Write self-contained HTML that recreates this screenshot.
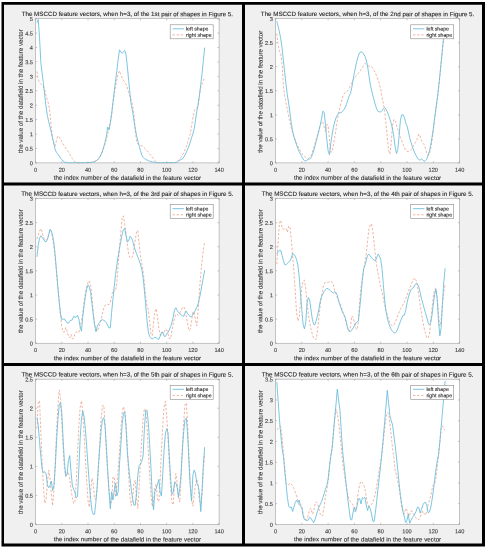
<!DOCTYPE html>
<html lang="en"><head><meta charset="utf-8"><title>MSCCD feature vectors</title>
<style>
html,body{margin:0;padding:0;background:#fff;}
body{width:487px;height:550px;overflow:hidden;font-family:"Liberation Sans",Arial,sans-serif;}
svg{display:block;}
</style></head><body>
<svg width="487" height="550" viewBox="0 0 487 550" font-family="Liberation Sans, Arial, sans-serif" text-rendering="geometricPrecision" stroke-linecap="butt">
<style>text{stroke:#333;stroke-width:0.11px;}.k text{stroke-width:0.09px;}</style>
<rect x="1.5" y="2.0" width="483.5" height="544.5" fill="#000"/>
<rect x="4.0" y="4.75" width="238.0" height="177.75" fill="#f0f0f0"/>
<rect x="35.60" y="18.70" width="183.50" height="144.20" fill="#fff" stroke="#a0a0a0" stroke-width="0.6"/>
<path d="M35.60 162.90v-1.6M35.60 18.70v1.6M61.81 162.90v-1.6M61.81 18.70v1.6M88.03 162.90v-1.6M88.03 18.70v1.6M114.24 162.90v-1.6M114.24 18.70v1.6M140.46 162.90v-1.6M140.46 18.70v1.6M166.67 162.90v-1.6M166.67 18.70v1.6M192.89 162.90v-1.6M192.89 18.70v1.6M219.10 162.90v-1.6M219.10 18.70v1.6M35.60 162.90h1.6M219.10 162.90h-1.6M35.60 148.48h1.6M219.10 148.48h-1.6M35.60 134.06h1.6M219.10 134.06h-1.6M35.60 119.64h1.6M219.10 119.64h-1.6M35.60 105.22h1.6M219.10 105.22h-1.6M35.60 90.80h1.6M219.10 90.80h-1.6M35.60 76.38h1.6M219.10 76.38h-1.6M35.60 61.96h1.6M219.10 61.96h-1.6M35.60 47.54h1.6M219.10 47.54h-1.6M35.60 33.12h1.6M219.10 33.12h-1.6M35.60 18.70h1.6M219.10 18.70h-1.6" stroke="#949494" stroke-width="0.55" fill="none"/>
<g class="k" font-size="5.64" fill="#3a3a3a">
<text transform="translate(35.60 171.70) rotate(0.05)" text-anchor="middle">0</text>
<text transform="translate(61.81 171.70) rotate(0.05)" text-anchor="middle">20</text>
<text transform="translate(88.03 171.70) rotate(0.05)" text-anchor="middle">40</text>
<text transform="translate(114.24 171.70) rotate(0.05)" text-anchor="middle">60</text>
<text transform="translate(140.46 171.70) rotate(0.05)" text-anchor="middle">80</text>
<text transform="translate(166.67 171.70) rotate(0.05)" text-anchor="middle">100</text>
<text transform="translate(192.89 171.70) rotate(0.05)" text-anchor="middle">120</text>
<text transform="translate(219.10 171.70) rotate(0.05)" text-anchor="middle">140</text>
<text transform="translate(33.00 165.20) rotate(0.05)" text-anchor="end">0</text>
<text transform="translate(33.00 150.78) rotate(0.05)" text-anchor="end">0.5</text>
<text transform="translate(33.00 136.36) rotate(0.05)" text-anchor="end">1</text>
<text transform="translate(33.00 121.94) rotate(0.05)" text-anchor="end">1.5</text>
<text transform="translate(33.00 107.52) rotate(0.05)" text-anchor="end">2</text>
<text transform="translate(33.00 93.10) rotate(0.05)" text-anchor="end">2.5</text>
<text transform="translate(33.00 78.68) rotate(0.05)" text-anchor="end">3</text>
<text transform="translate(33.00 64.26) rotate(0.05)" text-anchor="end">3.5</text>
<text transform="translate(33.00 49.84) rotate(0.05)" text-anchor="end">4</text>
<text transform="translate(33.00 35.42) rotate(0.05)" text-anchor="end">4.5</text>
<text transform="translate(33.00 21.00) rotate(0.05)" text-anchor="end">5</text>
</g>
<text transform="translate(127.35 179.90) rotate(0.05)" font-size="6.22" text-anchor="middle" fill="#333">the index number of the datafield in the feature vector</text>
<text transform="translate(22.75 91.10) rotate(-89.94)" font-size="6.2" text-anchor="middle" fill="#333">the value of the datafield in the feature vector</text>
<text transform="translate(127.35 16.10) rotate(0.05)" font-size="6.23" text-anchor="middle" fill="#222">The MSCCD feature vectors, when h=3, of the 1st pair of shapes in Figure 5.</text>
<clipPath id="c1"><rect x="35.60" y="18.20" width="183.50" height="145.20"/></clipPath>
<g clip-path="url(#c1)" fill="none" stroke-linejoin="round">
<polyline stroke="#eba28a" stroke-width="0.8" stroke-dasharray="2.4 1.7" points="36.91,71.48 38.22,79.26 39.53,82.72 40.84,84.17 42.15,85.03 43.46,86.19 44.78,90.22 46.09,95.99 47.40,100.03 48.71,104.35 50.02,113.30 51.33,128.29 52.64,139.25 53.95,144.15 55.26,146.17 56.57,139.83 57.88,135.79 59.19,136.94 60.50,139.05 61.81,141.56 63.12,143.93 64.44,146.17 65.75,148.06 67.06,149.92 68.37,152.04 69.68,154.25 70.99,156.40 72.30,158.50 73.61,160.33 74.92,161.75 76.23,162.54 77.54,162.90 78.85,162.90 80.16,162.90 81.47,162.90 82.79,162.90 84.10,162.90 85.41,162.90 86.72,162.90 88.03,162.90 89.34,162.83 90.65,162.64 91.96,162.36 93.27,162.03 94.58,161.59 95.89,160.92 97.20,160.04 98.51,158.94 99.82,157.40 101.14,154.89 102.45,151.67 103.76,148.05 105.07,144.14 106.38,139.33 107.69,134.06 109.00,128.76 110.31,122.52 111.62,113.62 112.93,103.78 114.24,94.69 115.55,86.47 116.86,79.93 118.18,73.61 119.49,70.79 120.80,74.94 122.11,77.72 123.42,80.13 124.73,82.07 126.04,84.18 127.35,87.98 128.66,92.81 129.97,96.75 131.28,100.50 132.59,105.45 133.90,113.64 135.21,130.76 136.53,140.99 137.84,143.95 139.15,145.02 140.46,145.49 141.77,145.86 143.08,146.63 144.39,147.83 145.70,149.15 147.01,150.66 148.32,152.23 149.63,153.79 150.94,155.40 152.25,157.10 153.56,158.79 154.88,160.46 156.19,161.81 157.50,162.48 158.81,162.79 160.12,162.90 161.43,162.90 162.74,162.90 164.05,162.90 165.36,162.90 166.67,162.90 167.98,162.90 169.29,162.90 170.60,162.90 171.91,162.90 173.22,162.90 174.54,162.80 175.85,162.54 177.16,162.07 178.47,160.77 179.78,158.99 181.09,157.23 182.40,155.24 183.71,152.87 185.02,149.85 186.33,146.36 187.64,142.43 188.95,138.10 190.26,133.90 191.57,126.42 192.89,117.88 194.20,111.32 195.51,108.66 196.82,108.12 198.13,106.35 199.44,95.78 200.75,87.25 202.06,83.68 203.37,80.60 204.68,77.82"/>
<polyline stroke="#66bcdb" stroke-width="0.85" points="36.91,22.74 38.22,19.57 39.53,37.45 40.84,62.21 42.15,73.50 43.46,83.88 44.78,95.70 46.09,106.95 47.40,115.60 48.71,121.66 50.02,126.85 51.33,132.62 52.64,138.39 53.95,143.87 55.26,149.92 56.57,152.52 57.88,154.27 59.19,156.08 60.50,158.00 61.81,159.60 63.12,160.99 64.44,162.03 65.75,162.40 67.06,162.61 68.37,162.75 69.68,162.86 70.99,162.90 72.30,162.90 73.61,162.90 74.92,162.90 76.23,162.90 77.54,162.89 78.85,162.87 80.16,162.85 81.47,162.82 82.79,162.79 84.10,162.75 85.41,162.71 86.72,162.66 88.03,162.61 89.34,162.54 90.65,162.42 91.96,162.25 93.27,162.03 94.58,161.62 95.89,160.93 97.20,160.02 98.51,158.66 99.82,156.68 101.14,154.25 102.45,150.96 103.76,146.73 105.07,142.04 106.38,136.37 107.69,127.04 109.00,129.85 110.31,123.15 111.62,114.31 112.93,102.34 114.24,91.35 115.55,80.71 116.86,70.61 118.18,59.08 119.49,49.85 120.80,51.87 122.11,53.31 123.42,51.58 124.73,50.42 126.04,54.75 127.35,66.29 128.66,80.71 129.97,93.68 131.28,105.22 132.59,110.99 133.90,120.51 135.21,128.29 136.53,135.19 137.84,140.98 139.15,145.88 140.46,150.79 141.77,155.09 143.08,157.32 144.39,158.51 145.70,159.31 147.01,160.01 148.32,160.59 149.63,161.07 150.94,161.47 152.25,161.81 153.56,162.10 154.88,162.35 156.19,162.54 157.50,162.71 158.81,162.85 160.12,162.90 161.43,162.90 162.74,162.89 164.05,162.87 165.36,162.85 166.67,162.82 167.98,162.79 169.29,162.75 170.60,162.71 171.91,162.66 173.22,162.61 174.54,162.55 175.85,162.43 177.16,162.13 178.47,161.09 179.78,160.19 181.09,159.54 182.40,159.15 183.71,157.13 185.02,155.01 186.33,152.31 187.64,149.27 188.95,146.00 190.26,142.09 191.57,137.83 192.89,133.68 194.20,128.76 195.51,119.96 196.82,111.27 198.13,104.08 199.44,95.14 200.75,84.37 202.06,73.50 203.37,60.52 204.68,47.54"/>
</g>
<rect x="170.20" y="24.80" width="43.00" height="14.00" fill="#fff" stroke="#8a8a8a" stroke-width="0.6"/>
<path d="M172.50 28.80h11.4" stroke="#66bcdb" stroke-width="0.85"/>
<path d="M172.50 34.90h11.4" stroke="#eba28a" stroke-width="0.8" stroke-dasharray="2.4 1.7"/>
<text transform="translate(185.90 30.60) rotate(0.05)" font-size="5.2" fill="#222">left shape</text>
<text transform="translate(185.90 36.70) rotate(0.05)" font-size="5.2" fill="#222">right shape</text>
<rect x="245.0" y="4.75" width="237.0" height="177.75" fill="#f0f0f0"/>
<rect x="275.50" y="18.70" width="184.10" height="144.20" fill="#fff" stroke="#a0a0a0" stroke-width="0.6"/>
<path d="M275.50 162.90v-1.6M275.50 18.70v1.6M301.80 162.90v-1.6M301.80 18.70v1.6M328.10 162.90v-1.6M328.10 18.70v1.6M354.40 162.90v-1.6M354.40 18.70v1.6M380.70 162.90v-1.6M380.70 18.70v1.6M407.00 162.90v-1.6M407.00 18.70v1.6M433.30 162.90v-1.6M433.30 18.70v1.6M459.60 162.90v-1.6M459.60 18.70v1.6M275.50 162.90h1.6M459.60 162.90h-1.6M275.50 138.87h1.6M459.60 138.87h-1.6M275.50 114.83h1.6M459.60 114.83h-1.6M275.50 90.80h1.6M459.60 90.80h-1.6M275.50 66.77h1.6M459.60 66.77h-1.6M275.50 42.73h1.6M459.60 42.73h-1.6M275.50 18.70h1.6M459.60 18.70h-1.6" stroke="#949494" stroke-width="0.55" fill="none"/>
<g class="k" font-size="5.64" fill="#3a3a3a">
<text transform="translate(275.50 171.70) rotate(0.05)" text-anchor="middle">0</text>
<text transform="translate(301.80 171.70) rotate(0.05)" text-anchor="middle">20</text>
<text transform="translate(328.10 171.70) rotate(0.05)" text-anchor="middle">40</text>
<text transform="translate(354.40 171.70) rotate(0.05)" text-anchor="middle">60</text>
<text transform="translate(380.70 171.70) rotate(0.05)" text-anchor="middle">80</text>
<text transform="translate(407.00 171.70) rotate(0.05)" text-anchor="middle">100</text>
<text transform="translate(433.30 171.70) rotate(0.05)" text-anchor="middle">120</text>
<text transform="translate(459.60 171.70) rotate(0.05)" text-anchor="middle">140</text>
<text transform="translate(272.90 165.20) rotate(0.05)" text-anchor="end">0</text>
<text transform="translate(272.90 141.17) rotate(0.05)" text-anchor="end">0.5</text>
<text transform="translate(272.90 117.13) rotate(0.05)" text-anchor="end">1</text>
<text transform="translate(272.90 93.10) rotate(0.05)" text-anchor="end">1.5</text>
<text transform="translate(272.90 69.07) rotate(0.05)" text-anchor="end">2</text>
<text transform="translate(272.90 45.03) rotate(0.05)" text-anchor="end">2.5</text>
<text transform="translate(272.90 21.00) rotate(0.05)" text-anchor="end">3</text>
</g>
<text transform="translate(367.55 179.90) rotate(0.05)" font-size="6.22" text-anchor="middle" fill="#333">the index number of the datafield in the feature vector</text>
<text transform="translate(262.40 91.80) rotate(-89.94)" font-size="6.1" text-anchor="middle" fill="#333">the value of the datafield in the feature vector</text>
<text transform="translate(367.55 16.10) rotate(0.05)" font-size="6.23" text-anchor="middle" fill="#222">The MSCCD feature vectors, when h=3, of the 2nd pair of shapes in Figure 5.</text>
<clipPath id="c2"><rect x="275.50" y="18.20" width="184.10" height="145.20"/></clipPath>
<g clip-path="url(#c2)" fill="none" stroke-linejoin="round">
<polyline stroke="#eba28a" stroke-width="0.8" stroke-dasharray="2.4 1.7" points="276.81,33.60 278.13,44.76 279.44,51.25 280.76,53.94 282.07,63.54 283.39,86.24 284.70,95.81 286.02,102.74 287.33,109.52 288.65,116.18 289.96,122.24 291.28,127.85 292.60,132.79 293.91,136.71 295.23,140.01 296.54,142.99 297.86,145.91 299.17,148.76 300.49,151.28 301.80,153.26 303.12,154.94 304.43,156.34 305.75,157.45 307.06,158.40 308.38,158.40 309.69,157.23 311.00,155.45 312.32,152.32 313.63,147.83 314.95,143.39 316.26,138.70 317.58,134.06 318.89,129.53 320.21,125.53 321.52,121.82 322.84,122.17 324.16,126.90 325.47,131.66 326.79,124.54 328.10,124.94 329.42,139.06 330.73,152.43 332.05,151.50 333.36,144.96 334.68,137.32 335.99,129.08 337.31,120.80 338.62,113.59 339.94,107.50 341.25,101.97 342.56,96.94 343.88,94.25 345.19,92.63 346.51,91.56 347.82,90.70 349.14,88.78 350.46,85.54 351.77,82.61 353.09,80.27 354.40,78.18 355.72,76.29 357.03,74.61 358.35,73.13 359.66,71.57 360.98,69.80 362.29,67.85 363.61,65.23 364.92,63.44 366.24,64.34 367.55,65.56 368.87,66.16 370.18,66.52 371.50,66.97 372.81,68.06 374.12,70.48 375.44,73.29 376.75,76.23 378.07,79.65 379.38,83.76 380.70,89.16 382.02,96.85 383.33,103.81 384.64,110.44 385.96,123.12 387.27,136.99 388.59,150.67 389.91,154.09 391.22,142.34 392.54,125.17 393.85,119.30 395.17,121.08 396.48,125.02 397.80,129.37 399.11,133.67 400.43,137.36 401.74,140.79 403.06,144.23 404.37,147.32 405.69,150.37 407.00,151.36 408.32,151.36 409.63,151.20 410.95,149.81 412.26,147.99 413.58,145.57 414.89,143.40 416.21,141.29 417.52,138.26 418.84,134.07 420.15,135.97 421.47,140.26 422.78,143.04 424.10,144.50 425.41,148.25 426.73,153.18 428.04,155.35 429.36,154.62 430.67,148.43 431.99,140.79 433.30,130.93 434.62,119.79 435.93,109.69 437.25,99.05 438.56,88.00 439.88,75.66 441.19,61.96 442.50,48.42 443.82,36.53 445.13,27.35"/>
<polyline stroke="#66bcdb" stroke-width="0.85" points="276.81,21.10 278.13,26.21 279.44,32.05 280.76,38.89 282.07,47.85 283.39,60.21 284.70,72.36 286.02,84.40 287.33,95.04 288.65,102.99 289.96,112.99 291.28,123.17 292.60,131.20 293.91,136.47 295.23,140.98 296.54,144.91 297.86,148.49 299.17,151.56 300.49,154.19 301.80,156.76 303.12,159.05 304.43,160.70 305.75,161.12 307.06,159.99 308.38,159.33 309.69,159.03 311.00,157.87 312.32,154.79 313.63,151.04 314.95,146.25 316.26,141.25 317.58,136.23 318.89,130.92 320.21,125.19 321.52,119.00 322.84,111.09 324.16,112.36 325.47,124.60 326.79,139.49 328.10,150.70 329.42,154.72 330.73,143.75 332.05,134.98 333.36,127.48 334.68,121.99 335.99,117.96 337.31,115.15 338.62,113.16 339.94,112.70 341.25,112.47 342.56,111.41 343.88,109.55 345.19,107.32 346.51,104.40 347.82,99.96 349.14,95.96 350.46,93.43 351.77,87.73 353.09,79.74 354.40,72.66 355.72,66.17 357.03,60.46 358.35,55.83 359.66,52.59 360.98,51.91 362.29,52.31 363.61,53.90 364.92,56.27 366.24,60.04 367.55,65.98 368.87,74.96 370.18,83.52 371.50,89.96 372.81,95.45 374.12,100.44 375.44,105.21 376.75,109.13 378.07,111.52 379.38,111.86 380.70,111.90 382.02,110.57 383.33,108.77 384.64,107.40 385.96,109.11 387.27,111.83 388.59,115.37 389.91,119.26 391.22,123.41 392.54,128.89 393.85,136.87 395.17,147.04 396.48,153.47 397.80,149.74 399.11,135.61 400.43,119.94 401.74,114.92 403.06,114.78 404.37,117.35 405.69,122.90 407.00,125.85 408.32,131.25 409.63,137.60 410.95,142.09 412.26,146.21 413.58,150.03 414.89,153.15 416.21,155.72 417.52,158.02 418.84,159.70 420.15,160.22 421.47,158.75 422.78,159.85 424.10,161.39 425.41,160.66 426.73,159.21 428.04,155.45 429.36,151.38 430.67,145.28 431.99,137.42 433.30,128.77 434.62,118.12 435.93,108.16 437.25,99.12 438.56,87.92 439.88,75.22 441.19,61.96 442.50,48.47 443.82,36.53 445.13,27.35"/>
</g>
<rect x="410.70" y="24.80" width="43.00" height="14.00" fill="#fff" stroke="#8a8a8a" stroke-width="0.6"/>
<path d="M413.00 28.80h11.4" stroke="#66bcdb" stroke-width="0.85"/>
<path d="M413.00 34.90h11.4" stroke="#eba28a" stroke-width="0.8" stroke-dasharray="2.4 1.7"/>
<text transform="translate(426.40 30.60) rotate(0.05)" font-size="5.2" fill="#222">left shape</text>
<text transform="translate(426.40 36.70) rotate(0.05)" font-size="5.2" fill="#222">right shape</text>
<rect x="4.0" y="185.5" width="238.0" height="177.5" fill="#f0f0f0"/>
<rect x="35.60" y="198.55" width="183.50" height="144.70" fill="#fff" stroke="#a0a0a0" stroke-width="0.6"/>
<path d="M35.60 343.25v-1.6M35.60 198.55v1.6M61.81 343.25v-1.6M61.81 198.55v1.6M88.03 343.25v-1.6M88.03 198.55v1.6M114.24 343.25v-1.6M114.24 198.55v1.6M140.46 343.25v-1.6M140.46 198.55v1.6M166.67 343.25v-1.6M166.67 198.55v1.6M192.89 343.25v-1.6M192.89 198.55v1.6M219.10 343.25v-1.6M219.10 198.55v1.6M35.60 343.25h1.6M219.10 343.25h-1.6M35.60 319.13h1.6M219.10 319.13h-1.6M35.60 295.02h1.6M219.10 295.02h-1.6M35.60 270.90h1.6M219.10 270.90h-1.6M35.60 246.78h1.6M219.10 246.78h-1.6M35.60 222.67h1.6M219.10 222.67h-1.6M35.60 198.55h1.6M219.10 198.55h-1.6" stroke="#949494" stroke-width="0.55" fill="none"/>
<g class="k" font-size="5.64" fill="#3a3a3a">
<text transform="translate(35.60 352.05) rotate(0.05)" text-anchor="middle">0</text>
<text transform="translate(61.81 352.05) rotate(0.05)" text-anchor="middle">20</text>
<text transform="translate(88.03 352.05) rotate(0.05)" text-anchor="middle">40</text>
<text transform="translate(114.24 352.05) rotate(0.05)" text-anchor="middle">60</text>
<text transform="translate(140.46 352.05) rotate(0.05)" text-anchor="middle">80</text>
<text transform="translate(166.67 352.05) rotate(0.05)" text-anchor="middle">100</text>
<text transform="translate(192.89 352.05) rotate(0.05)" text-anchor="middle">120</text>
<text transform="translate(219.10 352.05) rotate(0.05)" text-anchor="middle">140</text>
<text transform="translate(33.00 345.55) rotate(0.05)" text-anchor="end">0</text>
<text transform="translate(33.00 321.43) rotate(0.05)" text-anchor="end">0.5</text>
<text transform="translate(33.00 297.32) rotate(0.05)" text-anchor="end">1</text>
<text transform="translate(33.00 273.20) rotate(0.05)" text-anchor="end">1.5</text>
<text transform="translate(33.00 249.08) rotate(0.05)" text-anchor="end">2</text>
<text transform="translate(33.00 224.97) rotate(0.05)" text-anchor="end">2.5</text>
<text transform="translate(33.00 200.85) rotate(0.05)" text-anchor="end">3</text>
</g>
<text transform="translate(127.35 360.25) rotate(0.05)" font-size="6.22" text-anchor="middle" fill="#333">the index number of the datafield in the feature vector</text>
<text transform="translate(22.75 271.20) rotate(-89.94)" font-size="6.2" text-anchor="middle" fill="#333">the value of the datafield in the feature vector</text>
<text transform="translate(127.35 195.95) rotate(0.05)" font-size="6.23" text-anchor="middle" fill="#222">The MSCCD feature vectors, when h=3, of the 3rd pair of shapes in Figure 5.</text>
<clipPath id="c3"><rect x="35.60" y="198.05" width="183.50" height="145.70"/></clipPath>
<g clip-path="url(#c3)" fill="none" stroke-linejoin="round">
<polyline stroke="#eba28a" stroke-width="0.8" stroke-dasharray="2.4 1.7" points="36.91,239.07 38.22,235.08 39.53,231.24 40.84,228.56 42.15,231.88 43.46,237.40 44.78,239.74 46.09,240.44 47.40,238.53 48.71,234.84 50.02,229.66 51.33,231.77 52.64,238.37 53.95,247.45 55.26,259.01 56.57,272.02 57.88,286.54 59.19,301.21 60.50,314.35 61.81,327.02 63.12,331.92 64.44,332.08 65.75,327.64 67.06,330.83 68.37,336.24 69.68,337.91 70.99,334.57 72.30,338.82 73.61,338.40 74.92,334.29 76.23,331.79 77.54,332.47 78.85,332.71 80.16,327.88 81.47,320.89 82.79,311.97 84.10,301.49 85.41,293.12 86.72,286.65 88.03,282.74 89.34,280.57 90.65,285.52 91.96,297.41 93.27,313.26 94.58,322.87 95.89,329.17 97.20,331.53 98.51,327.99 99.82,324.14 101.14,320.08 102.45,313.53 103.76,308.04 105.07,305.21 106.38,304.28 107.69,304.37 109.00,304.58 110.31,302.27 111.62,296.39 112.93,290.19 114.24,291.27 115.55,290.35 116.86,282.67 118.18,264.72 119.49,248.19 120.80,232.19 122.11,218.33 123.42,215.83 124.73,224.20 126.04,233.70 127.35,244.11 128.66,254.02 129.97,257.74 131.28,258.18 132.59,256.91 133.90,249.96 135.21,240.01 136.53,232.09 137.84,230.35 139.15,244.32 140.46,255.52 141.77,263.58 143.08,270.90 144.39,282.30 145.70,296.55 147.01,306.11 148.32,309.36 149.63,321.80 150.94,333.58 152.25,335.78 153.56,322.03 154.88,311.47 156.19,308.64 157.50,317.17 158.81,328.14 160.12,334.65 161.43,335.08 162.74,331.94 164.05,332.91 165.36,329.23 166.67,329.59 167.98,333.68 169.29,338.53 170.60,338.69 171.91,330.91 173.22,323.92 174.54,318.19 175.85,314.16 177.16,314.48 178.47,315.20 179.78,313.33 181.09,310.60 182.40,307.88 183.71,306.64 185.02,309.39 186.33,315.85 187.64,323.77 188.95,330.59 190.26,329.30 191.57,321.25 192.89,311.88 194.20,312.29 195.51,320.52 196.82,325.83 198.13,310.99 199.44,290.55 200.75,274.75 202.06,260.76 203.37,249.69 204.68,241.96"/>
<polyline stroke="#66bcdb" stroke-width="0.85" points="36.91,256.91 38.22,245.15 39.53,238.20 40.84,235.75 42.15,237.26 43.46,239.12 44.78,241.16 46.09,241.86 47.40,239.37 48.71,234.96 50.02,229.20 51.33,230.96 52.64,235.81 53.95,243.02 55.26,255.76 56.57,272.50 57.88,287.47 59.19,301.72 60.50,313.83 61.81,319.62 63.12,319.01 64.44,318.88 65.75,321.17 67.06,322.87 68.37,323.23 69.68,320.95 70.99,320.36 72.30,319.77 73.61,316.30 74.92,317.18 76.23,317.21 77.54,315.27 78.85,318.92 80.16,326.85 81.47,331.18 82.79,316.76 84.10,305.67 85.41,296.16 86.72,288.75 88.03,284.89 89.34,287.06 90.65,292.22 91.96,303.40 93.27,314.66 94.58,325.09 95.89,331.60 97.20,326.64 98.51,323.69 99.82,322.19 101.14,320.23 102.45,319.70 103.76,320.35 105.07,321.18 106.38,322.60 107.69,325.37 109.00,328.16 110.31,327.58 111.62,312.53 112.93,299.31 114.24,286.69 115.55,274.77 116.86,264.67 118.18,256.11 119.49,248.35 120.80,241.27 122.11,234.37 123.42,229.79 124.73,228.35 126.04,235.55 127.35,241.89 128.66,240.99 129.97,236.24 131.28,237.46 132.59,240.55 133.90,245.85 135.21,250.05 136.53,253.66 137.84,257.06 139.15,260.53 140.46,264.24 141.77,269.55 143.08,277.65 144.39,289.80 145.70,305.03 147.01,320.31 148.32,331.86 149.63,336.45 150.94,338.22 152.25,338.84 153.56,338.36 154.88,337.00 156.19,337.84 157.50,338.84 158.81,339.39 160.12,336.25 161.43,332.33 162.74,332.41 164.05,336.20 165.36,336.38 166.67,334.09 167.98,332.40 169.29,330.06 170.60,326.49 171.91,322.68 173.22,316.83 174.54,309.97 175.85,307.79 177.16,310.48 178.47,312.37 179.78,313.68 181.09,314.79 182.40,315.93 183.71,316.33 185.02,312.77 186.33,311.23 187.64,313.52 188.95,315.36 190.26,316.56 191.57,316.48 192.89,314.69 194.20,312.38 195.51,310.15 196.82,307.43 198.13,303.71 199.44,298.36 200.75,292.02 202.06,284.60 203.37,277.31 204.68,269.94"/>
</g>
<rect x="170.20" y="204.65" width="43.00" height="14.00" fill="#fff" stroke="#8a8a8a" stroke-width="0.6"/>
<path d="M172.50 208.65h11.4" stroke="#66bcdb" stroke-width="0.85"/>
<path d="M172.50 214.75h11.4" stroke="#eba28a" stroke-width="0.8" stroke-dasharray="2.4 1.7"/>
<text transform="translate(185.90 210.45) rotate(0.05)" font-size="5.2" fill="#222">left shape</text>
<text transform="translate(185.90 216.55) rotate(0.05)" font-size="5.2" fill="#222">right shape</text>
<rect x="245.0" y="185.5" width="237.0" height="177.5" fill="#f0f0f0"/>
<rect x="275.50" y="198.55" width="184.10" height="144.70" fill="#fff" stroke="#a0a0a0" stroke-width="0.6"/>
<path d="M275.50 343.25v-1.6M275.50 198.55v1.6M301.80 343.25v-1.6M301.80 198.55v1.6M328.10 343.25v-1.6M328.10 198.55v1.6M354.40 343.25v-1.6M354.40 198.55v1.6M380.70 343.25v-1.6M380.70 198.55v1.6M407.00 343.25v-1.6M407.00 198.55v1.6M433.30 343.25v-1.6M433.30 198.55v1.6M459.60 343.25v-1.6M459.60 198.55v1.6M275.50 343.25h1.6M459.60 343.25h-1.6M275.50 319.13h1.6M459.60 319.13h-1.6M275.50 295.02h1.6M459.60 295.02h-1.6M275.50 270.90h1.6M459.60 270.90h-1.6M275.50 246.78h1.6M459.60 246.78h-1.6M275.50 222.67h1.6M459.60 222.67h-1.6M275.50 198.55h1.6M459.60 198.55h-1.6" stroke="#949494" stroke-width="0.55" fill="none"/>
<g class="k" font-size="5.64" fill="#3a3a3a">
<text transform="translate(275.50 352.05) rotate(0.05)" text-anchor="middle">0</text>
<text transform="translate(301.80 352.05) rotate(0.05)" text-anchor="middle">20</text>
<text transform="translate(328.10 352.05) rotate(0.05)" text-anchor="middle">40</text>
<text transform="translate(354.40 352.05) rotate(0.05)" text-anchor="middle">60</text>
<text transform="translate(380.70 352.05) rotate(0.05)" text-anchor="middle">80</text>
<text transform="translate(407.00 352.05) rotate(0.05)" text-anchor="middle">100</text>
<text transform="translate(433.30 352.05) rotate(0.05)" text-anchor="middle">120</text>
<text transform="translate(459.60 352.05) rotate(0.05)" text-anchor="middle">140</text>
<text transform="translate(272.90 345.55) rotate(0.05)" text-anchor="end">0</text>
<text transform="translate(272.90 321.43) rotate(0.05)" text-anchor="end">0.5</text>
<text transform="translate(272.90 297.32) rotate(0.05)" text-anchor="end">1</text>
<text transform="translate(272.90 273.20) rotate(0.05)" text-anchor="end">1.5</text>
<text transform="translate(272.90 249.08) rotate(0.05)" text-anchor="end">2</text>
<text transform="translate(272.90 224.97) rotate(0.05)" text-anchor="end">2.5</text>
<text transform="translate(272.90 200.85) rotate(0.05)" text-anchor="end">3</text>
</g>
<text transform="translate(367.55 360.25) rotate(0.05)" font-size="6.22" text-anchor="middle" fill="#333">the index number of the datafield in the feature vector</text>
<text transform="translate(262.40 271.20) rotate(-89.94)" font-size="6.2" text-anchor="middle" fill="#333">the value of the datafield in the feature vector</text>
<text transform="translate(367.55 195.95) rotate(0.05)" font-size="6.23" text-anchor="middle" fill="#222">The MSCCD feature vectors, when h=3, of the 4th pair of shapes in Figure 5.</text>
<clipPath id="c4"><rect x="275.50" y="198.05" width="184.10" height="145.70"/></clipPath>
<g clip-path="url(#c4)" fill="none" stroke-linejoin="round">
<polyline stroke="#eba28a" stroke-width="0.8" stroke-dasharray="2.4 1.7" points="276.81,264.15 278.13,241.22 279.44,222.96 280.76,220.13 282.07,228.32 283.39,229.36 284.70,228.77 286.02,228.25 287.33,232.24 288.65,226.16 289.96,226.54 291.28,239.74 292.60,256.04 293.91,270.64 295.23,291.43 296.54,312.32 297.86,320.96 299.17,318.17 300.49,301.90 301.80,287.48 303.12,280.70 304.43,280.07 305.75,289.09 307.06,302.18 308.38,313.98 309.69,322.78 311.00,329.14 312.32,334.08 313.63,338.24 314.95,339.59 316.26,338.69 317.58,330.23 318.89,317.68 320.21,305.34 321.52,295.27 322.84,288.26 324.16,283.91 325.47,282.00 326.79,282.25 328.10,282.48 329.42,281.80 330.73,281.04 332.05,282.05 333.36,285.08 334.68,290.61 335.99,294.19 337.31,297.40 338.62,300.46 339.94,303.50 341.25,306.98 342.56,310.93 343.88,314.80 345.19,319.06 346.51,324.01 347.82,329.03 349.14,331.46 350.46,326.66 351.77,315.90 353.09,317.38 354.40,322.92 355.72,328.53 357.03,329.72 358.35,322.41 359.66,301.78 360.98,287.61 362.29,278.10 363.61,270.13 364.92,262.56 366.24,254.06 367.55,241.56 368.87,229.46 370.18,224.80 371.50,223.73 372.81,230.87 374.12,243.32 375.44,256.30 376.75,266.64 378.07,273.42 379.38,280.21 380.70,286.42 382.02,292.26 383.33,298.78 384.64,304.87 385.96,310.43 387.27,315.19 388.59,319.24 389.91,322.71 391.22,325.08 392.54,325.83 393.85,324.97 395.17,322.75 396.48,318.80 397.80,315.71 399.11,312.42 400.43,308.84 401.74,306.81 403.06,304.91 404.37,301.92 405.69,298.64 407.00,295.15 408.32,291.57 409.63,288.27 410.95,285.20 412.26,281.99 413.58,279.10 414.89,277.77 416.21,280.74 417.52,286.41 418.84,295.03 420.15,304.50 421.47,313.00 422.78,321.29 424.10,328.00 425.41,333.12 426.73,337.38 428.04,338.37 429.36,334.27 430.67,322.11 431.99,308.59 433.30,297.04 434.62,289.24 435.93,288.60 437.25,298.56 438.56,315.42 439.88,326.06 441.19,319.59 442.50,303.89 443.82,292.25 445.13,284.56"/>
<polyline stroke="#66bcdb" stroke-width="0.85" points="276.81,254.02 278.13,251.78 279.44,250.12 280.76,250.40 282.07,255.49 283.39,260.31 284.70,264.58 286.02,264.79 287.33,263.41 288.65,262.12 289.96,260.88 291.28,258.25 292.60,253.60 293.91,254.29 295.23,256.09 296.54,259.40 297.86,265.40 299.17,276.00 300.49,292.83 301.80,310.19 303.12,324.07 304.43,328.87 305.75,322.39 307.06,302.73 308.38,297.53 309.69,299.89 311.00,309.95 312.32,319.13 313.63,324.43 314.95,324.61 316.26,320.58 317.58,315.31 318.89,308.89 320.21,301.50 321.52,297.01 322.84,293.97 324.16,291.35 325.47,289.59 326.79,288.51 328.10,288.52 329.42,290.07 330.73,291.06 332.05,292.21 333.36,293.02 334.68,291.79 335.99,292.43 337.31,295.32 338.62,301.29 339.94,304.88 341.25,308.59 342.56,312.38 343.88,314.53 345.19,317.42 346.51,322.94 347.82,328.83 349.14,331.09 350.46,331.66 351.77,330.08 353.09,328.01 354.40,325.89 355.72,322.77 357.03,322.03 358.35,321.25 359.66,308.54 360.98,295.53 362.29,280.55 363.61,269.06 364.92,265.26 366.24,260.54 367.55,255.30 368.87,254.10 370.18,255.93 371.50,257.70 372.81,259.18 374.12,260.13 375.44,260.73 376.75,257.73 378.07,254.08 379.38,255.70 380.70,259.35 382.02,268.42 383.33,284.40 384.64,300.04 385.96,310.73 387.27,318.00 388.59,322.90 389.91,326.57 391.22,329.57 392.54,331.47 393.85,332.64 395.17,333.12 396.48,331.61 397.80,328.66 399.11,324.92 400.43,321.39 401.74,318.17 403.06,315.39 404.37,315.27 405.69,310.42 407.00,303.04 408.32,297.27 409.63,293.09 410.95,289.78 412.26,288.25 413.58,287.53 414.89,284.76 416.21,283.49 417.52,284.01 418.84,286.99 420.15,292.73 421.47,298.58 422.78,303.22 424.10,308.08 425.41,312.78 426.73,317.25 428.04,322.50 429.36,324.85 430.67,322.78 431.99,315.35 433.30,304.11 434.62,294.53 435.93,289.13 437.25,299.44 438.56,321.98 439.88,335.81 441.19,327.33 442.50,302.81 443.82,281.81 445.13,268.36"/>
</g>
<rect x="410.70" y="204.65" width="43.00" height="14.00" fill="#fff" stroke="#8a8a8a" stroke-width="0.6"/>
<path d="M413.00 208.65h11.4" stroke="#66bcdb" stroke-width="0.85"/>
<path d="M413.00 214.75h11.4" stroke="#eba28a" stroke-width="0.8" stroke-dasharray="2.4 1.7"/>
<text transform="translate(426.40 210.45) rotate(0.05)" font-size="5.2" fill="#222">left shape</text>
<text transform="translate(426.40 216.55) rotate(0.05)" font-size="5.2" fill="#222">right shape</text>
<rect x="4.0" y="366.0" width="238.0" height="177.5" fill="#f0f0f0"/>
<rect x="35.60" y="379.20" width="183.50" height="145.20" fill="#fff" stroke="#a0a0a0" stroke-width="0.6"/>
<path d="M35.60 524.40v-1.6M35.60 379.20v1.6M61.81 524.40v-1.6M61.81 379.20v1.6M88.03 524.40v-1.6M88.03 379.20v1.6M114.24 524.40v-1.6M114.24 379.20v1.6M140.46 524.40v-1.6M140.46 379.20v1.6M166.67 524.40v-1.6M166.67 379.20v1.6M192.89 524.40v-1.6M192.89 379.20v1.6M219.10 524.40v-1.6M219.10 379.20v1.6M35.60 524.40h1.6M219.10 524.40h-1.6M35.60 495.36h1.6M219.10 495.36h-1.6M35.60 466.32h1.6M219.10 466.32h-1.6M35.60 437.28h1.6M219.10 437.28h-1.6M35.60 408.24h1.6M219.10 408.24h-1.6M35.60 379.20h1.6M219.10 379.20h-1.6" stroke="#949494" stroke-width="0.55" fill="none"/>
<g class="k" font-size="5.64" fill="#3a3a3a">
<text transform="translate(35.60 533.20) rotate(0.05)" text-anchor="middle">0</text>
<text transform="translate(61.81 533.20) rotate(0.05)" text-anchor="middle">20</text>
<text transform="translate(88.03 533.20) rotate(0.05)" text-anchor="middle">40</text>
<text transform="translate(114.24 533.20) rotate(0.05)" text-anchor="middle">60</text>
<text transform="translate(140.46 533.20) rotate(0.05)" text-anchor="middle">80</text>
<text transform="translate(166.67 533.20) rotate(0.05)" text-anchor="middle">100</text>
<text transform="translate(192.89 533.20) rotate(0.05)" text-anchor="middle">120</text>
<text transform="translate(219.10 533.20) rotate(0.05)" text-anchor="middle">140</text>
<text transform="translate(33.00 526.70) rotate(0.05)" text-anchor="end">0</text>
<text transform="translate(33.00 497.66) rotate(0.05)" text-anchor="end">0.5</text>
<text transform="translate(33.00 468.62) rotate(0.05)" text-anchor="end">1</text>
<text transform="translate(33.00 439.58) rotate(0.05)" text-anchor="end">1.5</text>
<text transform="translate(33.00 410.54) rotate(0.05)" text-anchor="end">2</text>
<text transform="translate(33.00 381.50) rotate(0.05)" text-anchor="end">2.5</text>
</g>
<text transform="translate(127.35 541.40) rotate(0.05)" font-size="6.22" text-anchor="middle" fill="#333">the index number of the datafield in the feature vector</text>
<text transform="translate(22.75 452.10) rotate(-89.94)" font-size="6.2" text-anchor="middle" fill="#333">the value of the datafield in the feature vector</text>
<text transform="translate(127.35 376.60) rotate(0.05)" font-size="6.23" text-anchor="middle" fill="#222">The MSCCD feature vectors, when h=3, of the 5th pair of shapes in Figure 5.</text>
<clipPath id="c5"><rect x="35.60" y="378.70" width="183.50" height="146.20"/></clipPath>
<g clip-path="url(#c5)" fill="none" stroke-linejoin="round">
<polyline stroke="#eba28a" stroke-width="0.8" stroke-dasharray="2.4 1.7" points="36.91,428.57 38.22,402.43 39.53,400.69 40.84,432.60 42.15,462.13 43.46,486.79 44.78,503.27 46.09,499.21 47.40,482.75 48.71,470.08 50.02,477.98 51.33,495.00 52.64,505.65 53.95,489.01 55.26,462.30 56.57,431.29 57.88,406.38 59.19,389.94 60.50,398.37 61.81,422.76 63.12,448.39 64.44,468.69 65.75,476.45 67.06,473.35 68.37,471.66 69.68,477.83 70.99,488.61 72.30,497.85 73.61,503.53 74.92,501.36 76.23,483.02 77.54,453.08 78.85,426.31 80.16,407.32 81.47,400.67 82.79,412.35 84.10,433.76 85.41,458.82 86.72,481.42 88.03,500.59 89.34,507.20 90.65,490.26 91.96,478.26 93.27,483.70 94.58,498.79 95.89,499.32 97.20,487.80 98.51,465.30 99.82,440.65 101.14,418.45 102.45,405.52 103.76,405.26 105.07,424.71 106.38,452.65 107.69,473.49 109.00,490.10 110.31,504.05 111.62,502.63 112.93,477.07 114.24,476.95 115.55,497.14 116.86,485.18 118.18,469.38 119.49,450.94 120.80,430.51 122.11,413.42 123.42,406.65 124.73,410.63 126.04,423.29 127.35,447.45 128.66,474.86 129.97,496.92 131.28,505.71 132.59,498.68 133.90,483.74 135.21,480.06 136.53,497.77 137.84,508.38 139.15,486.65 140.46,462.15 141.77,438.38 143.08,419.07 144.39,408.54 145.70,410.52 147.01,427.25 148.32,450.64 149.63,474.40 150.94,495.72 152.25,506.58 153.56,500.61 154.88,487.34 156.19,484.11 157.50,499.38 158.81,501.58 160.12,481.25 161.43,450.61 162.74,425.66 164.05,407.20 165.36,401.47 166.67,414.58 167.98,437.51 169.29,464.58 170.60,487.70 171.91,502.52 173.22,504.87 174.54,484.69 175.85,473.58 177.16,482.15 178.47,497.68 179.78,502.18 181.09,478.19 182.40,445.38 183.71,421.28 185.02,404.76 186.33,402.84 187.64,425.03 188.95,455.22 190.26,482.54 191.57,499.52 192.89,506.21 194.20,495.01 195.51,483.58 196.82,478.98 198.13,485.36 199.44,500.59 200.75,505.75 202.06,492.44 203.37,470.56 204.68,453.54"/>
<polyline stroke="#66bcdb" stroke-width="0.85" points="36.91,417.53 38.22,425.10 39.53,441.32 40.84,456.58 42.15,469.28 43.46,472.91 44.78,471.64 46.09,473.93 47.40,484.85 48.71,487.78 50.02,485.49 51.33,481.11 52.64,490.47 53.95,485.35 55.26,466.59 56.57,440.99 57.88,419.62 59.19,404.85 60.50,402.55 61.81,413.14 63.12,438.92 64.44,462.49 65.75,475.75 67.06,474.96 68.37,460.67 69.68,455.64 70.99,471.18 72.30,485.14 73.61,489.52 74.92,492.33 76.23,497.93 77.54,496.53 78.85,468.31 80.16,438.43 81.47,419.07 82.79,410.92 84.10,416.88 85.41,429.86 86.72,446.98 88.03,466.13 89.34,483.64 90.65,499.12 91.96,510.34 93.27,514.53 94.58,514.33 95.89,502.19 97.20,486.65 98.51,464.58 99.82,447.11 101.14,429.84 102.45,419.46 103.76,417.63 105.07,425.93 106.38,446.86 107.69,470.23 109.00,491.29 110.31,508.72 111.62,491.88 112.93,500.01 114.24,490.71 115.55,483.16 116.86,495.94 118.18,491.62 119.49,464.30 120.80,445.65 122.11,424.50 123.42,413.47 124.73,411.68 126.04,427.53 127.35,452.00 128.66,466.83 129.97,478.38 131.28,488.92 132.59,498.79 133.90,505.03 135.21,505.24 136.53,493.23 137.84,475.37 139.15,465.42 140.46,464.40 141.77,461.39 143.08,456.03 144.39,428.82 145.70,410.97 147.01,410.12 148.32,422.76 149.63,443.71 150.94,467.83 152.25,496.08 153.56,509.88 154.88,491.16 156.19,488.63 157.50,484.33 158.81,479.38 160.12,491.93 161.43,496.11 162.74,474.18 164.05,449.93 165.36,434.05 166.67,428.63 167.98,432.63 169.29,455.45 170.60,477.89 171.91,494.39 173.22,492.46 174.54,482.78 175.85,482.81 177.16,487.59 178.47,497.17 179.78,488.64 181.09,473.59 182.40,449.96 183.71,431.47 185.02,419.26 186.33,418.00 187.64,433.99 188.95,462.13 190.26,486.65 191.57,500.93 192.89,475.16 194.20,470.05 195.51,473.80 196.82,483.27 198.13,485.78 199.44,493.11 200.75,511.62 202.06,491.51 203.37,463.72 204.68,447.15"/>
</g>
<rect x="170.20" y="385.30" width="43.00" height="14.00" fill="#fff" stroke="#8a8a8a" stroke-width="0.6"/>
<path d="M172.50 389.30h11.4" stroke="#66bcdb" stroke-width="0.85"/>
<path d="M172.50 395.40h11.4" stroke="#eba28a" stroke-width="0.8" stroke-dasharray="2.4 1.7"/>
<text transform="translate(185.90 391.10) rotate(0.05)" font-size="5.2" fill="#222">left shape</text>
<text transform="translate(185.90 397.20) rotate(0.05)" font-size="5.2" fill="#222">right shape</text>
<rect x="245.0" y="366.0" width="237.0" height="177.5" fill="#f0f0f0"/>
<rect x="275.50" y="379.20" width="184.10" height="145.20" fill="#fff" stroke="#a0a0a0" stroke-width="0.6"/>
<path d="M275.50 524.40v-1.6M275.50 379.20v1.6M301.80 524.40v-1.6M301.80 379.20v1.6M328.10 524.40v-1.6M328.10 379.20v1.6M354.40 524.40v-1.6M354.40 379.20v1.6M380.70 524.40v-1.6M380.70 379.20v1.6M407.00 524.40v-1.6M407.00 379.20v1.6M433.30 524.40v-1.6M433.30 379.20v1.6M459.60 524.40v-1.6M459.60 379.20v1.6M275.50 524.40h1.6M459.60 524.40h-1.6M275.50 503.66h1.6M459.60 503.66h-1.6M275.50 482.91h1.6M459.60 482.91h-1.6M275.50 462.17h1.6M459.60 462.17h-1.6M275.50 441.43h1.6M459.60 441.43h-1.6M275.50 420.69h1.6M459.60 420.69h-1.6M275.50 399.94h1.6M459.60 399.94h-1.6M275.50 379.20h1.6M459.60 379.20h-1.6" stroke="#949494" stroke-width="0.55" fill="none"/>
<g class="k" font-size="5.64" fill="#3a3a3a">
<text transform="translate(275.50 533.20) rotate(0.05)" text-anchor="middle">0</text>
<text transform="translate(301.80 533.20) rotate(0.05)" text-anchor="middle">20</text>
<text transform="translate(328.10 533.20) rotate(0.05)" text-anchor="middle">40</text>
<text transform="translate(354.40 533.20) rotate(0.05)" text-anchor="middle">60</text>
<text transform="translate(380.70 533.20) rotate(0.05)" text-anchor="middle">80</text>
<text transform="translate(407.00 533.20) rotate(0.05)" text-anchor="middle">100</text>
<text transform="translate(433.30 533.20) rotate(0.05)" text-anchor="middle">120</text>
<text transform="translate(459.60 533.20) rotate(0.05)" text-anchor="middle">140</text>
<text transform="translate(272.90 526.70) rotate(0.05)" text-anchor="end">0</text>
<text transform="translate(272.90 505.96) rotate(0.05)" text-anchor="end">0.5</text>
<text transform="translate(272.90 485.21) rotate(0.05)" text-anchor="end">1</text>
<text transform="translate(272.90 464.47) rotate(0.05)" text-anchor="end">1.5</text>
<text transform="translate(272.90 443.73) rotate(0.05)" text-anchor="end">2</text>
<text transform="translate(272.90 422.99) rotate(0.05)" text-anchor="end">2.5</text>
<text transform="translate(272.90 402.24) rotate(0.05)" text-anchor="end">3</text>
<text transform="translate(272.90 381.50) rotate(0.05)" text-anchor="end">3.5</text>
</g>
<text transform="translate(367.55 541.40) rotate(0.05)" font-size="6.22" text-anchor="middle" fill="#333">the index number of the datafield in the feature vector</text>
<text transform="translate(262.40 452.10) rotate(-89.94)" font-size="6.2" text-anchor="middle" fill="#333">the value of the datafield in the feature vector</text>
<text transform="translate(367.55 376.60) rotate(0.05)" font-size="6.23" text-anchor="middle" fill="#222">The MSCCD feature vectors, when h=3, of the 6th pair of shapes in Figure 5.</text>
<clipPath id="c6"><rect x="275.50" y="378.70" width="184.10" height="146.20"/></clipPath>
<g clip-path="url(#c6)" fill="none" stroke-linejoin="round">
<polyline stroke="#eba28a" stroke-width="0.8" stroke-dasharray="2.4 1.7" points="276.81,429.40 278.13,428.57 279.44,426.14 280.76,426.67 282.07,437.89 283.39,452.77 284.70,465.60 286.02,482.49 287.33,485.23 288.65,484.67 289.96,482.96 291.28,484.14 292.60,486.01 293.91,488.79 295.23,492.10 296.54,496.02 297.86,500.68 299.17,505.35 300.49,504.18 301.80,505.52 303.12,513.69 304.43,519.01 305.75,519.74 307.06,518.96 308.38,514.62 309.69,509.44 311.00,508.22 312.32,514.03 313.63,511.95 314.95,504.80 316.26,501.79 317.58,503.26 318.89,508.70 320.21,514.21 321.52,516.27 322.84,514.88 324.16,506.23 325.47,496.57 326.79,490.43 328.10,480.86 329.42,467.49 330.73,455.58 332.05,448.74 333.36,433.89 334.68,418.46 335.99,409.06 337.31,413.63 338.62,422.06 339.94,434.46 341.25,447.35 342.56,461.81 343.88,470.40 345.19,479.63 346.51,487.89 347.82,494.94 349.14,499.57 350.46,501.46 351.77,503.16 353.09,505.13 354.40,511.78 355.72,510.11 357.03,502.59 358.35,491.67 359.66,484.57 360.98,481.25 362.29,482.63 363.61,484.86 364.92,488.76 366.24,496.80 367.55,504.07 368.87,506.22 370.18,506.29 371.50,504.66 372.81,502.28 374.12,498.52 375.44,493.04 376.75,485.56 378.07,477.25 379.38,469.64 380.70,461.98 382.02,453.11 383.33,441.43 384.64,428.98 385.96,418.61 387.27,412.39 388.59,413.37 389.91,423.35 391.22,435.76 392.54,448.07 393.85,457.63 395.17,469.94 396.48,474.86 397.80,481.11 399.11,488.04 400.43,496.51 401.74,507.49 403.06,512.27 404.37,514.01 405.69,508.25 407.00,509.97 408.32,514.81 409.63,515.61 410.95,510.90 412.26,511.17 413.58,514.18 414.89,516.43 416.21,518.22 417.52,519.66 418.84,519.60 420.15,517.84 421.47,513.59 422.78,510.99 424.10,513.35 425.41,515.20 426.73,511.76 428.04,505.56 429.36,500.53 430.67,495.93 431.99,489.55 433.30,485.08 434.62,483.69 435.93,478.34 437.25,466.79 438.56,455.37 439.88,441.98 441.19,428.30 442.50,425.75 443.82,429.12 445.13,430.23"/>
<polyline stroke="#66bcdb" stroke-width="0.85" points="276.81,381.69 278.13,400.77 279.44,419.00 280.76,434.50 282.07,447.99 283.39,456.16 284.70,470.56 286.02,484.13 287.33,496.81 288.65,505.92 289.96,507.73 291.28,507.00 292.60,511.48 293.91,507.15 295.23,502.43 296.54,500.30 297.86,502.41 299.17,500.13 300.49,506.67 301.80,507.20 303.12,515.89 304.43,519.49 305.75,520.08 307.06,520.66 308.38,519.85 309.69,517.38 311.00,518.18 312.32,520.67 313.63,522.70 314.95,519.75 316.26,515.42 317.58,510.71 318.89,507.47 320.21,504.55 321.52,501.63 322.84,497.83 324.16,493.49 325.47,489.10 326.79,485.73 328.10,479.38 329.42,467.40 330.73,456.78 332.05,448.57 333.36,433.90 334.68,418.52 335.99,404.19 337.31,389.16 338.62,399.94 339.94,410.30 341.25,431.06 342.56,450.46 343.88,463.22 345.19,474.96 346.51,487.46 347.82,498.94 349.14,509.31 350.46,519.31 351.77,519.92 353.09,512.09 354.40,507.39 355.72,511.47 357.03,506.30 358.35,499.02 359.66,498.51 360.98,503.91 362.29,497.66 363.61,498.46 364.92,497.19 366.24,505.01 367.55,510.57 368.87,506.02 370.18,508.41 371.50,514.03 372.81,521.02 374.12,521.60 375.44,512.10 376.75,500.49 378.07,488.22 379.38,476.60 380.70,464.69 382.02,451.64 383.33,437.42 384.64,422.18 385.96,406.66 387.27,390.34 388.59,402.85 389.91,415.71 391.22,420.69 392.54,424.83 393.85,435.21 395.17,445.58 396.48,456.93 397.80,470.32 399.11,483.54 400.43,495.64 401.74,504.06 403.06,511.70 404.37,517.16 405.69,522.52 407.00,520.21 408.32,514.22 409.63,523.38 410.95,520.51 412.26,517.78 413.58,516.09 414.89,513.78 416.21,511.00 417.52,507.06 418.84,507.54 420.15,513.09 421.47,509.43 422.78,505.10 424.10,503.00 425.41,502.21 426.73,504.88 428.04,512.56 429.36,512.10 430.67,508.08 431.99,500.25 433.30,491.21 434.62,480.12 435.93,469.48 437.25,460.84 438.56,454.36 439.88,441.43 441.19,426.49 442.50,411.56 443.82,396.17 445.13,380.86"/>
</g>
<rect x="410.70" y="385.30" width="43.00" height="14.00" fill="#fff" stroke="#8a8a8a" stroke-width="0.6"/>
<path d="M413.00 389.30h11.4" stroke="#66bcdb" stroke-width="0.85"/>
<path d="M413.00 395.40h11.4" stroke="#eba28a" stroke-width="0.8" stroke-dasharray="2.4 1.7"/>
<text transform="translate(426.40 391.10) rotate(0.05)" font-size="5.2" fill="#222">left shape</text>
<text transform="translate(426.40 397.20) rotate(0.05)" font-size="5.2" fill="#222">right shape</text>
</svg>
</body></html>
